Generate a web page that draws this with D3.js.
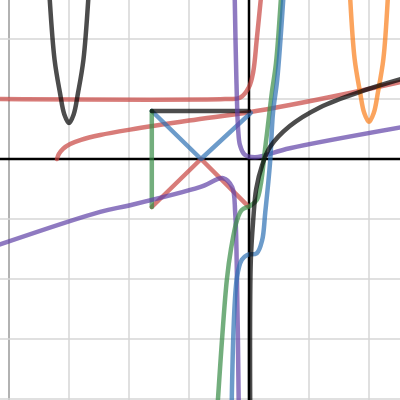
<!DOCTYPE html>
<html><head><meta charset="utf-8">
<script src="https://cdn.jsdelivr.net/npm/d3@7"></script>
<style>body{margin:0;background:#fff}</style>
</head><body><div id="chart"></div>
<script>
// grid values (graph units)
const xTicks = [-4, -3, -2, -1, 1, 2];
const yTicks = [-4, -3, -2, -1, 1, 2];

// curves as [x, y] in graph units
const blackParabola = [[-3.33,2.8],[-3.24,1.65],[-3.15,1.1],[-3.08,0.75],[-3,0.6],[-2.92,0.75],[-2.85,1.1],[-2.76,1.65],[-2.67,2.8]];
const orangeParabola = [[1.68,2.8],[1.76,1.67],[1.85,1.12],[1.92,0.77],[2,0.62],[2.08,0.77],[2.15,1.12],[2.24,1.67],[2.32,2.8]];
const redStep = [[-4.3,1],[-0.4,1],[-0.15,1.02],[0,1.2],[0.07,1.45],[0.13,2],[0.21,2.8]];
const redLog = [[-3.2,0],[-3.17,0.08],[-3.1,0.17],[-2.98,0.25],[-2.8,0.32],[-2.48,0.4],[-1.98,0.49],[-1,0.64],[0,0.78],[0.68,0.9],[1.68,1.1],[2.6,1.3]];
const blueV = [[-1.62,0.8],[-0.8,0],[0.03,0.77]];
const redV = [[-1.62,-0.8],[-0.8,0],[-0.02,-0.78]];
const greenBar = [[-1.62,0.8],[-1.62,-0.8]];
const blackBar = [[-1.62,0.8],[0,0.8]];
const greenCurve = [[-0.53,-4.2],[-0.37,-2.02],[-0.3,-1.5],[-0.2,-1.02],[-0.12,-0.85],[0.02,-0.78],[0.13,-0.68],[0.2,-0.4],[0.26,0.1],[0.3,0.43],[0.38,1.1],[0.45,1.6],[0.54,2.8]];
const blueCurve = [[-0.29,-4.2],[-0.2,-1.97],[-0.12,-1.68],[-0.03,-1.6],[0.13,-1.57],[0.22,-1.35],[0.27,-0.9],[0.35,-0.07],[0.4,0.77],[0.47,1.32],[0.58,2.8]];
const blackLog = [[0.02,-4.2],[0.03,-1.7],[0.07,-1.02],[0.12,-0.5],[0.22,-0.1],[0.35,0.2],[0.68,0.55],[1.18,0.86],[1.85,1.12],[2.6,1.35]];
const purpleLeft = [[-4.2,-1.44],[-2.48,-0.88],[-1.98,-0.77],[-0.82,-0.47],[-0.43,-0.32],[-0.28,-0.47],[-0.23,-0.9],[-0.2,-2.02],[-0.17,-4.2]];
const purpleRight = [[-0.24,2.8],[-0.21,1.32],[-0.18,0.48],[-0.15,0.23],[-0.07,0.07],[0.1,0.03],[0.68,0.18],[2.6,0.54]];

const W = 400, H = 400;
const x = d3.scaleLinear().domain([-249 / 60, 151 / 60]).range([0, W]);
const y = d3.scaleLinear().domain([-241 / 60, 159 / 60]).range([H, 0]);

const svg = d3.select('#chart').append('svg').attr('width', W).attr('height', H);

// grid
svg.selectAll('.gx').data(xTicks).enter().append('line')
  .attr('x1', d => x(d)).attr('x2', d => x(d)).attr('y1', 0).attr('y2', H)
  .attr('stroke', d => d === -4 ? '#999' : '#d6d6d6').attr('stroke-width', 1.5);
svg.selectAll('.gy').data(yTicks).enter().append('line')
  .attr('y1', d => y(d)).attr('y2', d => y(d)).attr('x1', 0).attr('x2', W)
  .attr('stroke', '#d6d6d6').attr('stroke-width', 1.5);

// axes
svg.append('line').attr('x1', 0).attr('x2', W).attr('y1', y(0)).attr('y2', y(0)).attr('stroke', '#000').attr('stroke-width', 2.5);
svg.append('line').attr('x1', x(0)).attr('x2', x(0)).attr('y1', 0).attr('y2', H).attr('stroke', '#000').attr('stroke-width', 2.5);

const smooth = d3.line().x(d => x(d[0])).y(d => y(d[1])).curve(d3.curveCatmullRom.alpha(0.5));
const straight = d3.line().x(d => x(d[0])).y(d => y(d[1]));

const curves = [
  [redStep, '#c74440', smooth],
  [redLog, '#c74440', smooth],
  [blackParabola, '#000', smooth],
  [orangeParabola, '#fa7e19', smooth],
  [redV, '#c74440', straight],
  [blueV, '#2d70b3', straight],
  [greenBar, '#388c46', straight],
  [blackBar, '#000', straight],
  [purpleLeft, '#6042a6', smooth],
  [purpleRight, '#6042a6', smooth],
  [greenCurve, '#388c46', smooth],
  [blueCurve, '#2d70b3', smooth],
  [blackLog, '#000', smooth]
];

svg.selectAll('.curve').data(curves).enter().append('path')
  .attr('fill', 'none')
  .attr('stroke', d => d[1])
  .attr('stroke-opacity', 0.7)
  .attr('stroke-width', 4.5)
  .attr('stroke-linecap', 'round')
  .attr('stroke-linejoin', 'round')
  .attr('d', d => d[2](d[0]));
</script>
</body></html>
